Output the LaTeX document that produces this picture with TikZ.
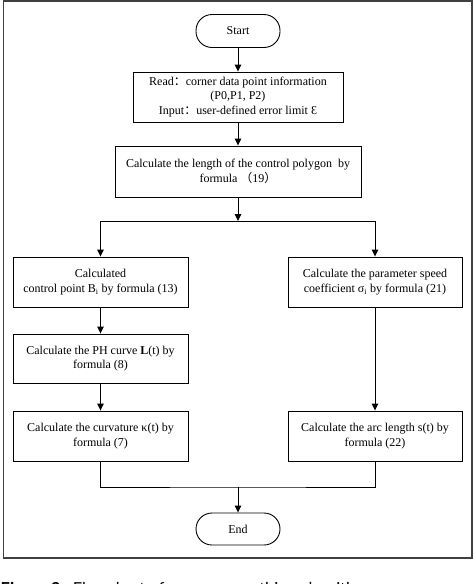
\documentclass[tikz,border=0pt]{standalone}
\usepackage{fontspec}
\setmainfont{Liberation Serif}
\newfontfamily\cjk{Noto Sans CJK SC}
\newfontfamily\capfont{Lato}
\usetikzlibrary{arrows.meta}
\begin{document}
\begin{tikzpicture}[x=1pt,y=-1pt,
  box/.style={draw, line width=0.9pt, align=center, inner sep=2pt,
    font=\fontsize{12}{14.7}\selectfont},
  term/.style={draw, line width=0.9pt, rounded corners=16pt, minimum width=84pt, minimum height=33pt,
    font=\fontsize{12}{14.7}\selectfont},
  arr/.style={line width=0.9pt, -{Triangle[length=7pt,width=6.5pt]}},
  ln/.style={line width=0.9pt}]
\useasboundingbox (0,0) rectangle (474,584);
\fill[white] (0,0) rectangle (474,584);
% outer frame
\draw[line width=1.3pt, draw=black!75] (3.5,1) rectangle (472,558);
% nodes
\node[term] (start) at (238,31) {Start};
\node[box, minimum width=210pt, minimum height=50pt] (read) at (238,97)
  {Read{\cjk ：}corner data point information\\(P0,P1, P2)\\Input{\cjk ：}user-defined error limit Ɛ};
\node[box, minimum width=246pt, minimum height=51pt] (calc) at (238,171.5)
  {Calculate the length of the control polygon\ \ by\\formula {\cjk （}19{\cjk ）}};
\node[box, minimum width=175pt, minimum height=50pt] (L1) at (100.5,282)
  {Calculated\\control point B\textsubscript{i} by formula (13)};
\node[box, minimum width=175pt, minimum height=49pt] (L2) at (100.5,358.5)
  {Calculate the PH curve \textbf{L}(t) by\\formula (8)};
\node[box, minimum width=175pt, minimum height=50pt] (L3) at (100.5,436)
  {Calculate the curvature κ(t) by\\formula (7)};
\node[box, minimum width=174pt, minimum height=50pt] (R1) at (375,282)
  {Calculate the parameter speed\\coefficient σ\textsubscript{i} by formula (21)};
\node[box, minimum width=174pt, minimum height=50pt] (R3) at (375,436)
  {Calculate the arc length s(t) by\\formula (22)};
\node[term, minimum height=32pt] (end) at (238,529) {End};
\coordinate (j1) at (238,221);
\coordinate (j2) at (238,487);
% connectors
\draw[arr] (start) -- (read);
\draw[arr] (read) -- (calc);
\draw[arr] (calc) -- (j1);
\draw[arr] (j1) -| (L1.north);
\draw[arr] (j1) -| (R1.north);
\draw[arr] (L1) -- (L2);
\draw[arr] (L2) -- (L3);
\draw[arr] (R1) -- (R3);
\draw[ln] (L3.south) |- (j2) -| (R3.south);
\draw[arr] (j2) -- (end);
% clipped caption
\begin{scope}
\clip (0,560) rectangle (474,584);
\node[anchor=base west, inner sep=0pt, font=\capfont\fontsize{16.5}{18}\selectfont] (cap) at (0.5,594)
  {\textbf{Figure 3.}\ \ Flowchart of corner smoothing algorithm};
\end{scope}
\end{tikzpicture}
\end{document}
